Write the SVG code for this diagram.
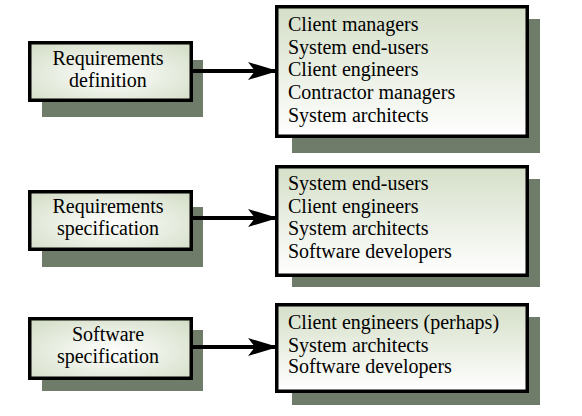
<svg xmlns="http://www.w3.org/2000/svg" width="582" height="416" viewBox="0 0 582 416">
<style>
.shadow{fill:#6f7c6a}
.lbox{fill:url(#rg);stroke:#000;stroke-width:3.5}
.rbox{fill:url(#lg);stroke:#000;stroke-width:3.5}
text{font-family:"Liberation Serif","Times New Roman",serif;font-size:20px;fill:#000}
.c{text-anchor:middle}
.conn{stroke:#000;stroke-width:4;fill:none;marker-end:url(#ah)}
</style>
<defs>
<radialGradient id="rg" cx="0.5" cy="0.55" r="0.7">
<stop offset="0" stop-color="#ffffff"/>
<stop offset="1" stop-color="#d3ddc6"/>
</radialGradient>
<linearGradient id="lg" x1="0" y1="0" x2="0" y2="1">
<stop offset="0" stop-color="#d5dfc8"/>
<stop offset="1" stop-color="#ffffff"/>
</linearGradient>
<marker id="ah" markerUnits="userSpaceOnUse" viewBox="0 0 30 20" markerWidth="30" markerHeight="20" refX="28" refY="10" orient="auto">
<path d="M0,1 L30,10 L0,19 L7,10 Z" fill="#000"/>
</marker>
</defs>
<g id="req-def">
<rect class="shadow" x="42" y="60" width="161" height="57"/>
<rect class="lbox" x="29.75" y="42.75" width="161.5" height="57.5"/>
<text class="c" x="108" y="65">Requirements</text>
<text class="c" x="108" y="87">definition</text>
</g>
<g id="req-spec">
<rect class="shadow" x="42" y="207" width="161" height="60"/>
<rect class="lbox" x="29.75" y="191.75" width="161.5" height="57.5"/>
<text class="c" x="108" y="213">Requirements</text>
<text class="c" x="108" y="235">specification</text>
</g>
<g id="sw-spec">
<rect class="shadow" x="42" y="330" width="161" height="61"/>
<rect class="lbox" x="29.75" y="318.75" width="161.5" height="59.5"/>
<text class="c" x="108" y="341">Software</text>
<text class="c" x="108" y="363">specification</text>
</g>
<g id="readers-def">
<rect class="shadow" x="292" y="19" width="248" height="134"/>
<rect class="rbox" x="276.75" y="6.75" width="250.5" height="129.5"/>
<text x="288" y="31">Client managers</text>
<text x="288" y="54">System end-users</text>
<text x="288" y="76">Client engineers</text>
<text x="288" y="99">Contractor managers</text>
<text x="288" y="122">System architects</text>
</g>
<g id="readers-spec">
<rect class="shadow" x="292" y="179" width="248" height="108"/>
<rect class="rbox" x="276.75" y="166.75" width="250.5" height="108.5"/>
<text x="288" y="190">System end-users</text>
<text x="288" y="213">Client engineers</text>
<text x="288" y="235">System architects</text>
<text x="288" y="258">Software developers</text>
</g>
<g id="readers-sw">
<rect class="shadow" x="292" y="317" width="248" height="88"/>
<rect class="rbox" x="276.75" y="304.75" width="250.5" height="86.5"/>
<text x="288" y="329">Client engineers (perhaps)</text>
<text x="288" y="352">System architects</text>
<text x="288" y="373">Software developers</text>
</g>
<g id="connectors">
<line class="conn" x1="190" y1="71" x2="276" y2="71"/>
<line class="conn" x1="190" y1="218" x2="276" y2="218"/>
<line class="conn" x1="190" y1="347" x2="276" y2="347"/>
</g>
</svg>
